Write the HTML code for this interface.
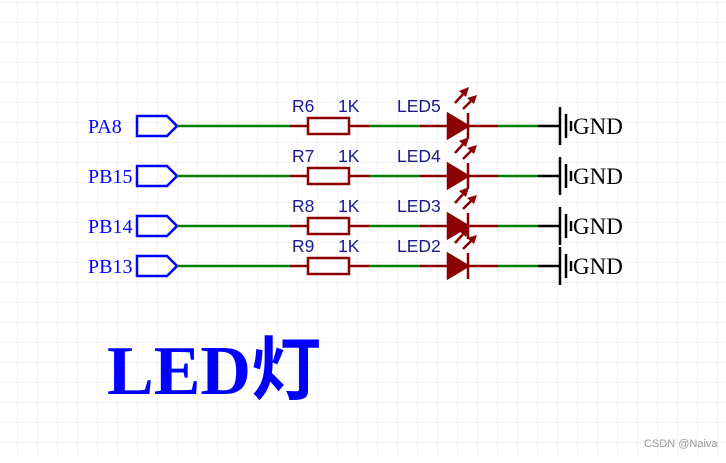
<!DOCTYPE html>
<html><head><meta charset="utf-8"><style>
html,body{margin:0;padding:0;background:#fff;}
</style></head><body>
<svg width="726" height="458" xmlns="http://www.w3.org/2000/svg">
<defs>
<pattern id="g" x="17" y="2" width="20" height="20" patternUnits="userSpaceOnUse">
<path d="M0 0H20M0 0V20" stroke="#ebebeb" stroke-width="1.2" fill="none"/>
</pattern>
<g id="arr" fill="#8b0000" stroke="#8b0000">
<line x1="455" y1="103" x2="465" y2="92" stroke-width="2.5"/>
<polygon points="469,87 459,91 466,97" stroke="none"/>
<line x1="463" y1="109" x2="473" y2="99" stroke-width="2.5"/>
<polygon points="477,95 467,98 474,104" stroke="none"/>
</g>
<g id="row" stroke-width="2.5" fill="none">
<polygon points="137,116 167,116 177,126 167,136 137,136" stroke="#0000ff"/>
<line x1="177" y1="126" x2="290" y2="126" stroke="#008000"/>
<line x1="290" y1="126" x2="308" y2="126" stroke="#8b0000"/>
<rect x="308" y="118" width="41" height="16" stroke="#8b0000"/>
<line x1="349" y1="126" x2="369" y2="126" stroke="#8b0000"/>
<line x1="369" y1="126" x2="420" y2="126" stroke="#008000"/>
<line x1="420" y1="126" x2="498" y2="126" stroke="#8b0000"/>
<polygon points="448,114 468,126 448,138" fill="#8b0000" stroke="#8b0000"/>
<line x1="468" y1="113" x2="468" y2="139" stroke="#8b0000"/>
<line x1="498" y1="126" x2="538" y2="126" stroke="#008000"/>
<line x1="538" y1="126" x2="560" y2="126" stroke="#000"/>
<line x1="560" y1="107" x2="560" y2="145" stroke="#000"/>
<line x1="566" y1="114" x2="566" y2="138" stroke="#000"/>
<line x1="571" y1="121" x2="571" y2="131" stroke="#000"/>
<use href="#arr"/>
</g>
</defs>
<rect width="726" height="458" fill="url(#g)"/>
<use href="#row"/>
<use href="#row" transform="translate(0,50)"/>
<use href="#row" transform="translate(0,100)"/>
<use href="#row" transform="translate(0,140)"/>
<g font-family="Liberation Serif, serif" font-size="20" fill="#0000ff">
<text x="88" y="133">PA8</text>
<text x="88" y="183">PB15</text>
<text x="88" y="233">PB14</text>
<text x="88" y="273">PB13</text>
</g>
<g font-family="Liberation Serif, serif" font-size="23" fill="#000">
<text x="573" y="134">GND</text>
<text x="573" y="184">GND</text>
<text x="573" y="234">GND</text>
<text x="573" y="274">GND</text>
</g>
<g font-family="Liberation Sans, sans-serif" font-size="17.5" fill="#1a1a8c">
<text x="292" y="112">R6</text><text x="338" y="112">1K</text><text x="397" y="112">LED5</text>
<text x="292" y="162">R7</text><text x="338" y="162">1K</text><text x="397" y="162">LED4</text>
<text x="292" y="212">R8</text><text x="338" y="212">1K</text><text x="397" y="212">LED3</text>
<text x="292" y="252">R9</text><text x="338" y="252">1K</text><text x="397" y="252">LED2</text>
</g>
<text x="107" y="394" font-family="Liberation Serif, 'Noto Serif CJK SC', serif" font-weight="bold" font-size="70" fill="#0000ff">LED<tspan font-family="'Noto Sans CJK SC', sans-serif" font-size="70">灯</tspan></text>
<text x="644" y="447" font-family="Liberation Sans, sans-serif" font-size="11" fill="#999">CSDN @Naiva</text>
</svg>
</body></html>
